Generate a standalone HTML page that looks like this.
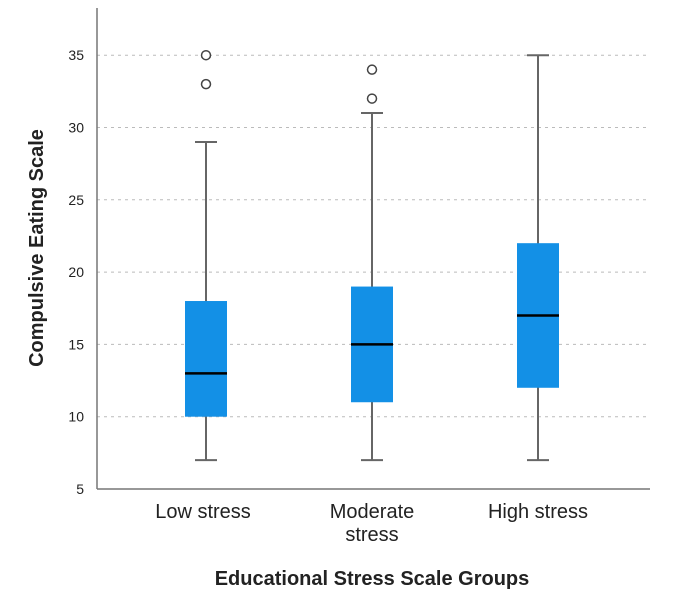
<!DOCTYPE html>
<html><head><meta charset="utf-8"><style>
body{margin:0;background:#fff;font-family:"Liberation Sans",sans-serif}
</style></head><body>
<svg id="c" width="685" height="595" xmlns="http://www.w3.org/2000/svg"></svg>
<script>
const categories=["Low stress","Moderate stress","High stress"];
const mins=[7,7,7];
const q1s=[10,11,12];
const medians=[13,15,17];
const q3s=[18,19,22];
const maxs=[29,31,35];
const outliers=[[35,33],[34,32],[]];
const yTicks=[5,10,15,20,25,30,35];
const NS="http://www.w3.org/2000/svg";
const svg=document.getElementById('c');
const x0=97,x1=650,yTop=8,yBot=489;
const y=v=>489-(v-5)*72.3/5;
const xc=i=>206+i*166;
function mk(t,a,p){const e=document.createElementNS(NS,t);for(const k in a)e.setAttribute(k,a[k]);(p||svg).appendChild(e);return e;}
yTicks.forEach(t=>{
 if(t>5){const g=mk('line',{x1:x0,x2:x1,y1:y(t),y2:y(t),stroke:'#bbb','stroke-dasharray':'3,4','stroke-width':1});
 
 }
 const l=mk('text',{x:84,y:y(t)+5,'text-anchor':'end','font-size':14,fill:'#222'});l.textContent=t;
 
 
});
const ya=mk('line',{x1:x0,x2:x0,y1:yTop,y2:yBot,stroke:'#777','stroke-width':1.5});


const xa=mk('line',{x1:x0,x2:x1,y1:yBot,y2:yBot,stroke:'#777','stroke-width':1.5});


categories.forEach((c,i)=>{
 const cx=xc(i);
 const g=mk('g',{});
 
 
 mk('line',{x1:cx,x2:cx,y1:y(maxs[i]),y2:y(mins[i]),stroke:'#666','stroke-width':2},g);
 mk('line',{x1:cx-11,x2:cx+11,y1:y(maxs[i]),y2:y(maxs[i]),stroke:'#666','stroke-width':2},g);
 mk('line',{x1:cx-11,x2:cx+11,y1:y(mins[i]),y2:y(mins[i]),stroke:'#666','stroke-width':2},g);
 mk('rect',{x:cx-21,y:y(q3s[i]),width:42,height:y(q1s[i])-y(q3s[i]),fill:'#1390e6'},g);
 mk('line',{x1:cx-21,x2:cx+21,y1:y(medians[i]),y2:y(medians[i]),stroke:'#000','stroke-width':2.5},g);
 outliers[i].forEach(o=>{const p=mk('circle',{cx:cx,cy:y(o),r:4.5,fill:'#fff',stroke:'#444','stroke-width':1.5});
  
  });
 const words=c==="Moderate stress"?["Moderate","stress"]:[c];
 words.forEach((w,k)=>{const t=mk('text',{x:cx-(i===0?3:0),y:518+k*23,'text-anchor':'middle','font-size':20,fill:'#222'});t.textContent=w;
  
  });
});
const xt=mk('text',{x:372,y:585,'text-anchor':'middle','font-size':20,'font-weight':'bold',fill:'#222'});
xt.textContent="Educational Stress Scale Groups";


const yt=mk('text',{x:0,y:0,'text-anchor':'middle','font-size':20,'font-weight':'bold',fill:'#222',transform:'translate(43,248) rotate(-90)'});
yt.textContent="Compulsive Eating Scale";


</script>
</body></html>
